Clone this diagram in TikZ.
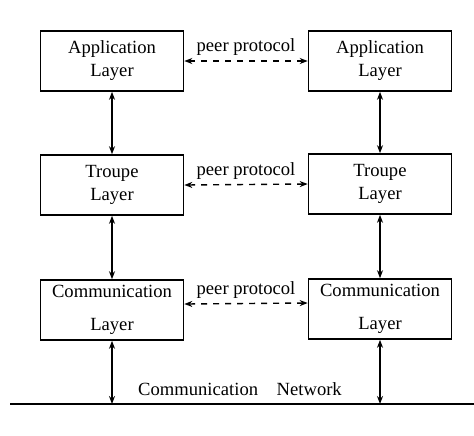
\documentclass[tikz,border=0pt]{standalone}
\usepackage{fontspec}
\setmainfont{Liberation Serif}
\usetikzlibrary{arrows.meta}

\begin{document}
\begin{tikzpicture}[x=0.5pt, y=-0.5pt,
    every node/.style={font=\fontsize{9.3}{11.5}\selectfont},
    layer/.style={draw, line width=0.8pt, minimum width=71.5pt, minimum height=30pt, align=center, inner sep=0pt},
    link/.style={{Stealth[length=4pt]}-{Stealth[length=4pt]}, line width=0.7pt},
    peer/.style={{Stealth[open, length=4pt]}-{Stealth[length=4pt]}, dashed, line width=0.7pt}]
  \useasboundingbox (0, 0) rectangle (474, 435);

  \node[layer] (appL) at (112, 61) {Application\\Layer};
  \node[layer] (appR) at (380, 61) {Application\\Layer};
  \node[layer] (troL) at (112, 185) {Troupe\\Layer};
  \node[layer] (troR) at (380, 184) {Troupe\\Layer};
  \node[layer] (comL) at (112, 310) {Communication\\[5pt]Layer};
  \node[layer] (comR) at (380, 309) {Communication\\[5pt]Layer};

  \coordinate (netL) at (112, 404);
  \coordinate (netR) at (380, 404);
  \draw[line width=0.8pt] (10, 404) -- (474, 404);
  \node (net) at (240, 389) {Communication\quad Network};

  \draw[peer] (appL.east) -- node[above=-1pt] {peer protocol} (appR.west);
  \draw[peer] (troL.east) -- node[above=-1pt] {peer protocol} (troR.west);
  \draw[peer] ([yshift=3pt]comL.east) -- node[above=-1pt] {peer protocol} ([yshift=3pt]comR.west);

  \draw[link] (appL) -- (troL);
  \draw[link] (troL) -- (comL);
  \draw[link] (comL) -- (netL);
  \draw[link] (appR) -- (troR);
  \draw[link] (troR) -- (comR);
  \draw[link] (comR) -- (netR);
\end{tikzpicture}
\end{document}
